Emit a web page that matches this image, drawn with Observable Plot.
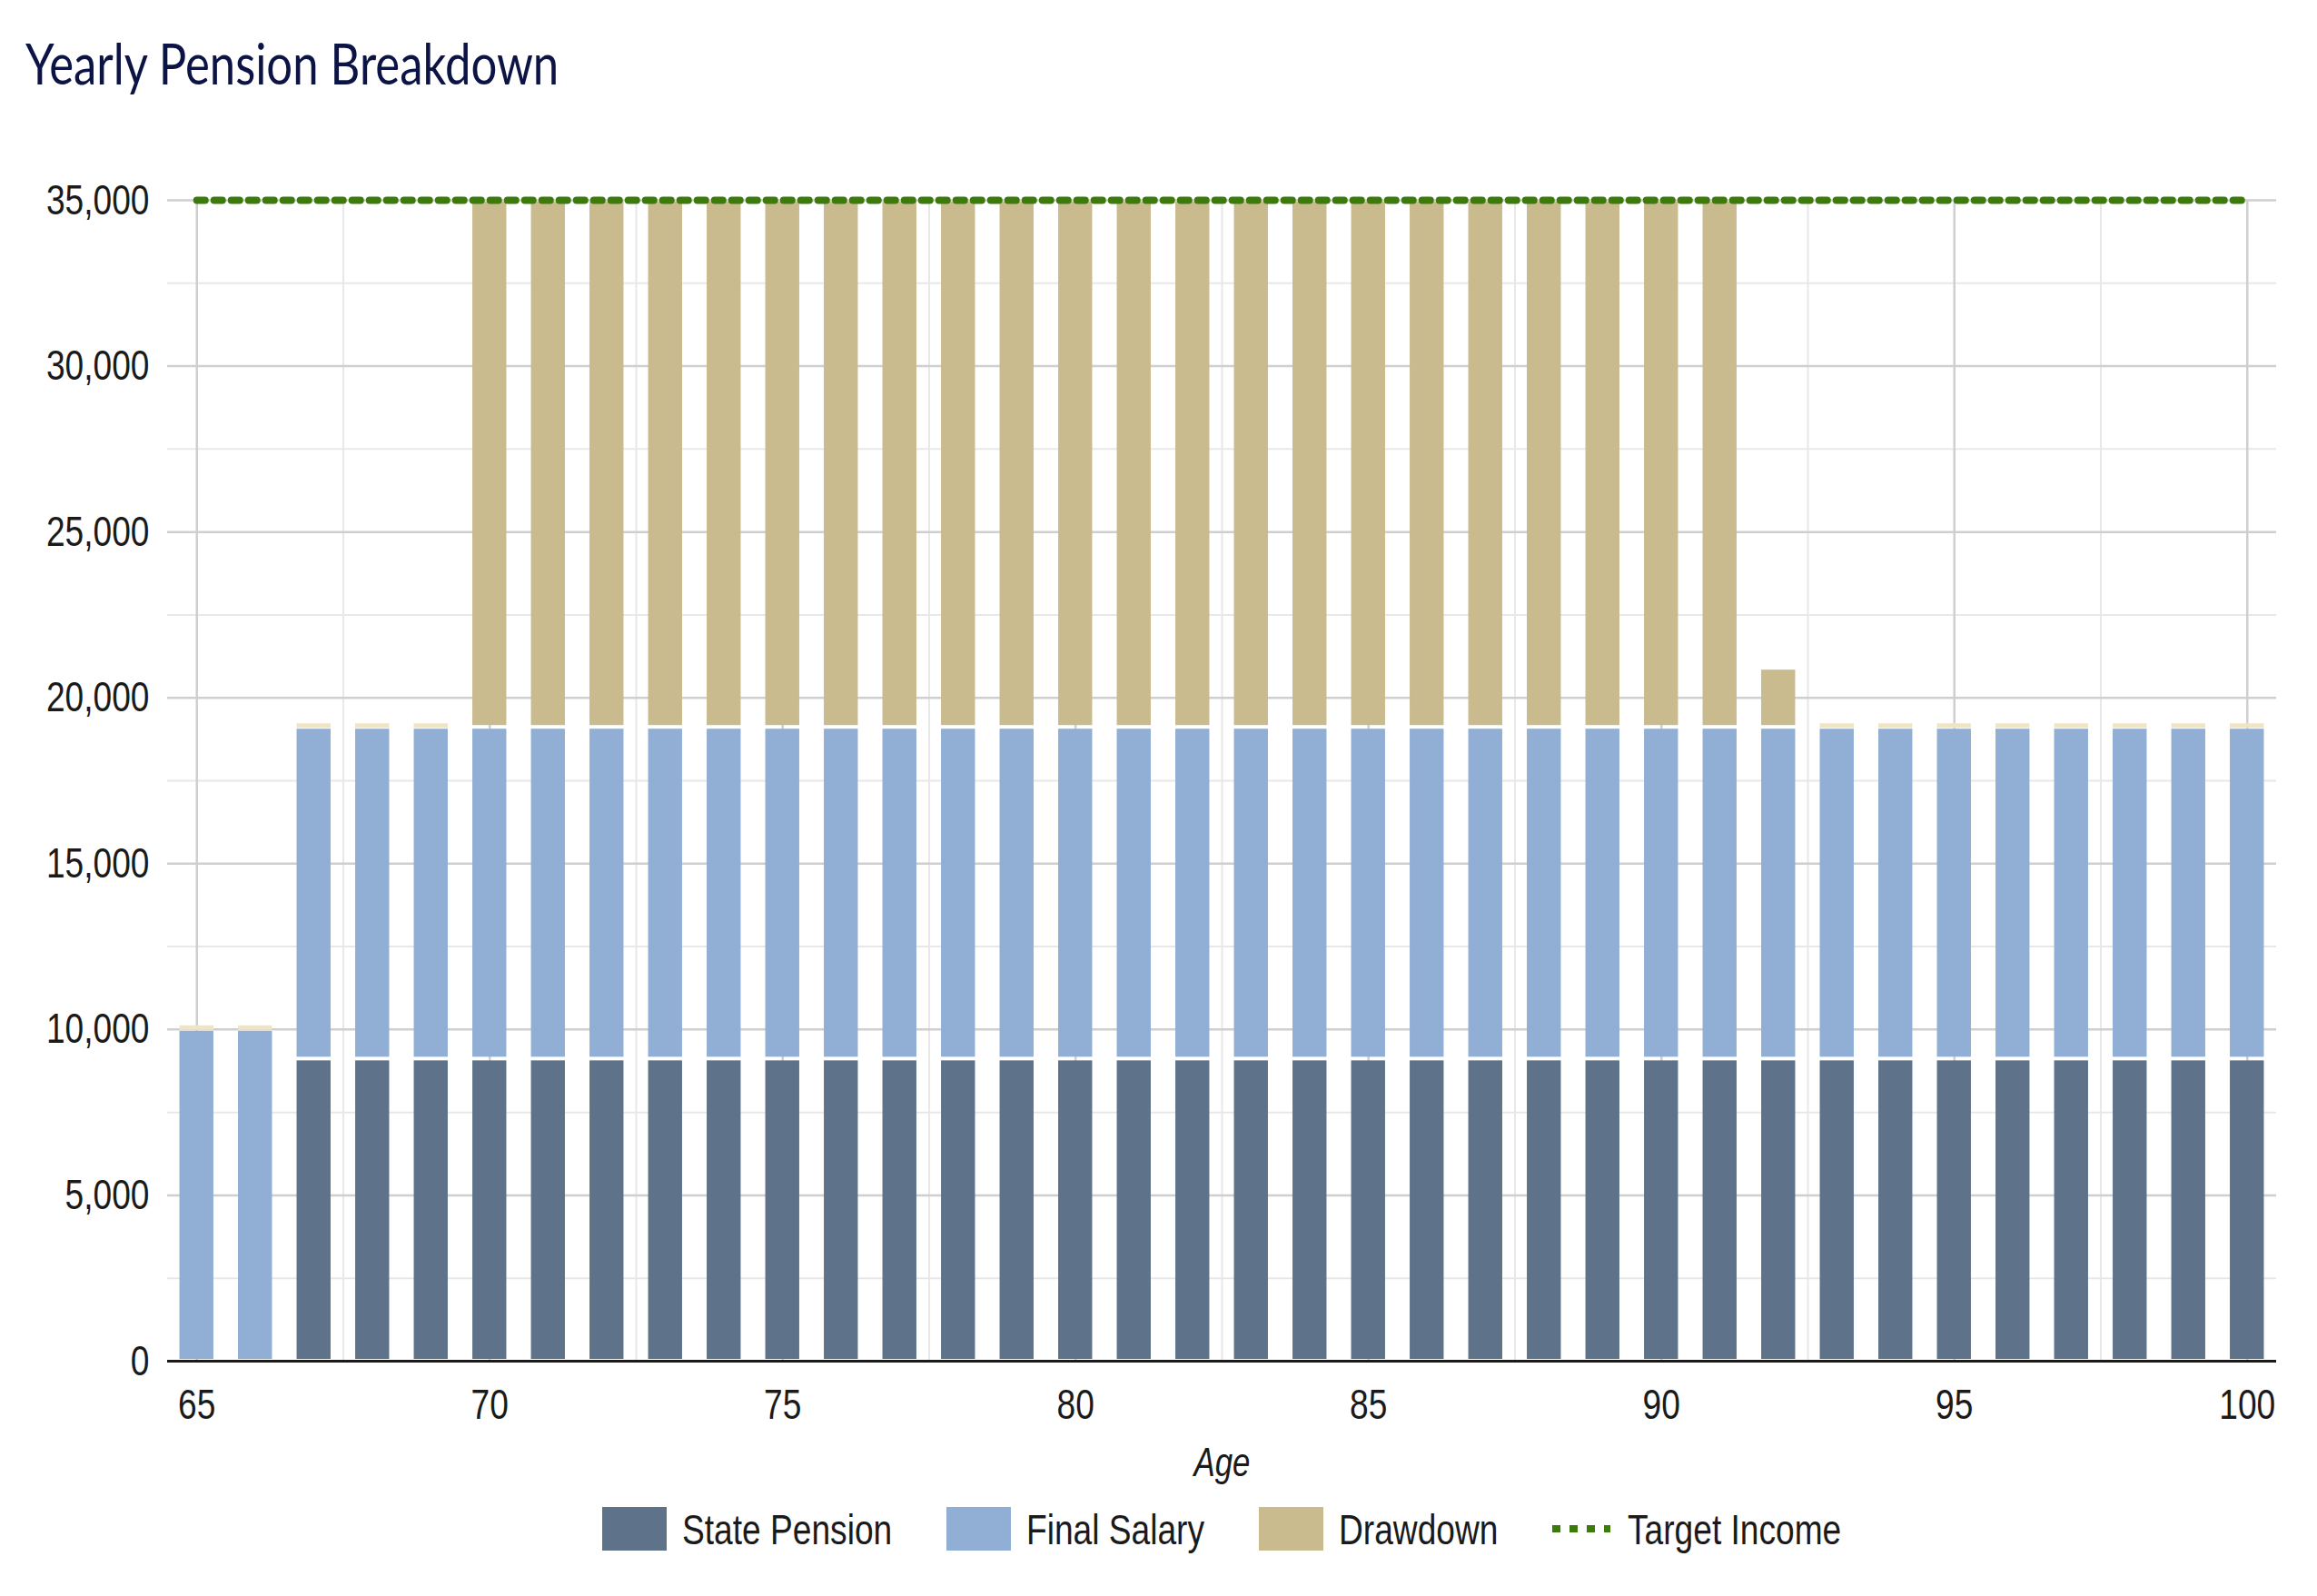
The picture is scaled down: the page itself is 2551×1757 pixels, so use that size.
<!DOCTYPE html>
<html>
<head>
<meta charset="utf-8">
<script src="https://cdn.jsdelivr.net/npm/d3@7"></script>
<script src="https://cdn.jsdelivr.net/npm/@observablehq/plot@0.6"></script>
<style>
  html, body { margin: 0; padding: 0; background: #fff; }
  body { width: 2551px; height: 1757px; position: relative; overflow: hidden; }
  #title {
    position: absolute; left: 28px; top: 38px;
    font-family: Lato, "Open Sans", sans-serif; font-size: 62px; color: #0b1445;
    transform: scaleX(0.82); transform-origin: left top; white-space: nowrap; line-height: 1;
  }
  #chart { position: absolute; left: 0; top: 150px; }
  #legend {
    position: absolute; left: 0; width: 2690px; top: 1659px; display: flex; justify-content: center;
    font-family: "Liberation Sans", Arial, sans-serif; font-size: 47px; color: #1a1a1a;
  }
  .item { display: flex; align-items: center; margin: 0 30px; height: 48px; }
  .sw { width: 71px; height: 48px; margin-right: 17px; flex: none; }
  .dots { width: 64px; height: 8px; margin-right: 19px; flex: none; background: repeating-linear-gradient(90deg, #3c7a0c 0 9px, transparent 9px 19px); }
  .lbl { display: inline-block; overflow: visible; white-space: nowrap; }
  .lbl span { display: inline-block; transform-origin: left center; }
</style>
</head>
<body>
<div id="title">Yearly Pension Breakdown</div>
<div id="chart"></div>
<div id="legend"></div>
<script>
// Ages covered by the projection
const ages = d3.range(65, 101);
// Income sources per age (£ per year)
const statePension = ages.map(a => a < 67 ? 0 : 9110);
const finalSalary = ages.map(() => 10000);
const drawdown = ages.map(a => (a >= 70 && a <= 91) ? 15890 : a === 92 ? 1780 : 0);
const targetIncome = ages.map(() => 35000);

const seriesNames = ["State Pension", "Final Salary", "Drawdown"];
const seriesColors = ["#5e7389", "#91aed4", "#c9bb8d"];
const targetColor = "#3c7a0c";

const yTicks = d3.range(0, 35001, 5000);
const yMinor = d3.range(2500, 35000, 5000);
const xTicks = d3.range(65, 101, 5);
const xMinor = d3.range(67.5, 100, 5);

// Narrow lettering: glyphs are squeezed horizontally to this fraction
const squeeze = 0.79;

// Long table for the stacked bars
const rows = [];
ages.forEach((age, i) => {
  rows.push({age, series: seriesNames[0], value: statePension[i]});
  rows.push({age, series: seriesNames[1], value: finalSalary[i]});
  rows.push({age, series: seriesNames[2], value: drawdown[i]});
});
const barRows = rows.filter(d => d.value > 0);
// Columns without drawdown still show an empty drawdown cap at their top
const emptyCaps = ages.map((age, i) => ({age, top: statePension[i] + finalSalary[i], dd: drawdown[i]}))
  .filter(d => d.dd === 0);
const targetRows = ages.map((age, i) => ({age, value: targetIncome[i]}));

const half = 0.29;

const chart = Plot.plot({
  width: 2551,
  height: 1490,
  marginLeft: 184,
  marginRight: 45,
  marginTop: 70,
  marginBottom: 142,
  style: {fontFamily: '"Liberation Sans", Arial, sans-serif', fontSize: "47px", color: "#1a1a1a", background: "#fff"},
  x: {domain: [64.5, 100.5], label: null},
  y: {domain: [0, 35000], label: null},
  color: {domain: seriesNames, range: seriesColors},
  marks: [
    Plot.gridY(yMinor, {stroke: "#e8e8e8", strokeOpacity: 1, strokeWidth: 2}),
    Plot.gridX(xMinor, {stroke: "#e8e8e8", strokeOpacity: 1, strokeWidth: 2}),
    Plot.gridY(yTicks, {stroke: "#cfcfcf", strokeOpacity: 1, strokeWidth: 2.5}),
    Plot.gridX(xTicks, {stroke: "#cfcfcf", strokeOpacity: 1, strokeWidth: 2.5}),
    Plot.rectY(barRows, Plot.stackY({
      order: seriesNames,
      x1: d => d.age - half, x2: d => d.age + half,
      y: "value", fill: "series", insetTop: 2, insetBottom: 2
    })),
    Plot.ruleY(emptyCaps, {x1: d => d.age - half, x2: d => d.age + half, y: "top", stroke: "#efe4c4", strokeWidth: 5, dy: -2}),
    Plot.axisY(yTicks, {tickSize: 0, tickPadding: 20, tickFormat: d3.format(","), fontSize: 47}),
    Plot.axisX(xTicks, {tickSize: 0, tickPadding: 30, fontSize: 47, label: null}),
    Plot.ruleY([0], {stroke: "#1a1a1a", strokeWidth: 3}),
    Plot.lineY(targetRows, {x: "age", y: "value", stroke: targetColor, strokeWidth: 8, strokeDasharray: "9,10"}),
    Plot.text(["Age"], {frameAnchor: "bottom", dy: 126, fontSize: 44, fontStyle: "italic", fill: "#1a1a1a"})
  ]
});
document.getElementById("chart").appendChild(chart);

// Squeeze the axis lettering horizontally
chart.querySelectorAll("text").forEach(t => {
  const len = t.getComputedTextLength();
  if (len > 0) {
    t.setAttribute("textLength", (len * squeeze).toFixed(1));
    t.setAttribute("lengthAdjust", "spacingAndGlyphs");
  }
});

// Legend row
const legend = document.getElementById("legend");
function addLabel(item, name) {
  const wrap = document.createElement("div");
  wrap.className = "lbl";
  const span = document.createElement("span");
  span.textContent = name;
  wrap.appendChild(span);
  item.appendChild(wrap);
  const w = span.getBoundingClientRect().width;
  span.style.transform = `scaleX(${squeeze})`;
  wrap.style.width = (w * squeeze) + "px";
}
seriesNames.forEach((name, i) => {
  const item = document.createElement("div");
  item.className = "item";
  const sw = document.createElement("div");
  sw.className = "sw";
  sw.style.background = seriesColors[i];
  item.appendChild(sw);
  legend.appendChild(item);
  addLabel(item, name);
});
const t = document.createElement("div");
t.className = "item";
const dots = document.createElement("div");
dots.className = "dots";
t.appendChild(dots);
legend.appendChild(t);
addLabel(t, "Target Income");
</script>
</body>
</html>
